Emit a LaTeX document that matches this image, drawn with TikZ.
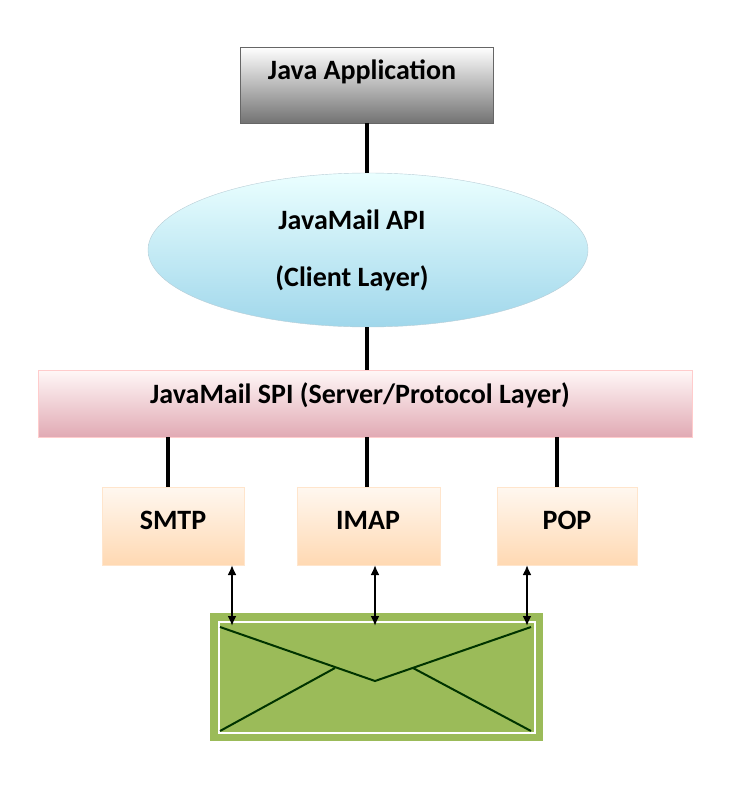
\documentclass[tikz,border=0pt]{standalone}
\usepackage{fontspec}
\setmainfont{Carlito}
\usetikzlibrary{shapes.geometric,arrows.meta}
\begin{document}
\begin{tikzpicture}[x=1pt,y=-1pt,
  lbl/.style={font=\bfseries\fontsize{28}{32}\selectfont},
  conn/.style={line width=4pt,black},
  arr/.style={line width=2pt,{Latex[length=10pt,width=9pt]}-{Latex[length=10pt,width=9pt]}},
  proto/.style={draw=orange!20,top color=orange!6,bottom color=orange!30!white},
  edge/.style={line width=2pt,black!80!green}]
\useasboundingbox (0,0) rectangle (738,786);
% Java Application
\path[draw=black!60,top color=white,bottom color=black!55] (240,47) rectangle (493,123);
\node[lbl] (app) at (362,72) {Java Application};
% ellipse
\node[ellipse,draw=cyan!30!gray!50,top color=cyan!8!white,bottom color={rgb,255:red,160;green,215;blue,235},minimum width=440pt,minimum height=154pt] (api) at (368,250) {};
\node[lbl] (apit) at (352,220) {JavaMail API};
\node[lbl] (apic) at (352,278) {(Client Layer)};
% SPI
\path[draw=red!20,top color=red!3,bottom color={rgb,255:red,225;green,170;blue,180}] (38,370) rectangle (692,437);
\node[lbl] (spi) at (360,395) {JavaMail SPI (Server/Protocol Layer)};
% protocols
\path[proto] (102,487) rectangle (244,565);
\path[proto] (297,487) rectangle (440,565);
\path[proto] (497,487) rectangle (637,565);
\node[lbl] (smtp) at (173,520) {SMTP};
\node[lbl] (imap) at (368,520) {IMAP};
\node[lbl] (pop) at (567,520) {POP};
% connectors
\coordinate (a1) at (367,123); \coordinate (a2) at (367,173);
\coordinate (b1) at (367,327); \coordinate (b2) at (367,370);
\draw[conn] (a1) -- (a2);
\draw[conn] (b1) -- (b2);
\foreach \x/\n in {168/s,367/i,557/p}{
  \coordinate (\n t) at (\x,437); \coordinate (\n b) at (\x,487);
  \draw[conn] (\n t) -- (\n b);}
% envelope
\fill[fill={rgb,255:red,155;green,187;blue,89}] (210,613) rectangle (543,741);
\draw[white,line width=2.5pt] (219,622) rectangle (535,733);
\coordinate (e1) at (220,627); \coordinate (e2) at (375,681); \coordinate (e3) at (531,627);
\coordinate (e4) at (220,731); \coordinate (e5) at (335,668);
\coordinate (e6) at (413,668); \coordinate (e7) at (531,731);
\draw[edge] (e1) -- (e2) -- (e3);
\draw[edge] (e4) -- (e5);
\draw[edge] (e6) -- (e7);
\foreach \x/\n in {232/s,375/i,527/p}{
  \coordinate (\n u) at (\x,565); \coordinate (\n d) at (\x,626);
  \draw[arr] (\n u) -- (\n d);}
\end{tikzpicture}
\end{document}
